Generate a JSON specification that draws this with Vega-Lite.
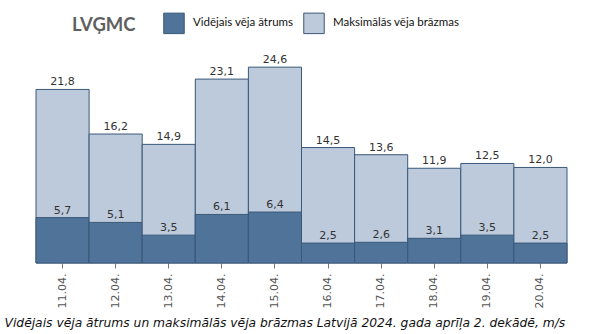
{
  "$schema": "https://vega.github.io/schema/vega-lite/v6.json",
  "autosize": {"type": "none"},
  "width": 531,
  "height": 207,
  "padding": {"left": 36, "top": 56, "right": 33, "bottom": 71},
  "background": "white",
  "title": {
    "text": "LVĢMC",
    "anchor": "start",
    "frame": "group",
    "dx": 36,
    "offset": -22,
    "fontSize": 18.5,
    "fontWeight": "bold",
    "font": "Lato",
    "color": "#5f5f5f"
  },
  "config": {
    "view": {"stroke": null},
    "locale": {"number": {"decimal": ",", "thousands": " ", "grouping": [3], "currency": ["", " €"]}},
    "font": "DejaVu Sans"
  },
  "data": {
    "values": [
      {"date": "11.04.", "avg": 5.7, "max": 21.8},
      {"date": "12.04.", "avg": 5.1, "max": 16.2},
      {"date": "13.04.", "avg": 3.5, "max": 14.9},
      {"date": "14.04.", "avg": 6.1, "max": 23.1},
      {"date": "15.04.", "avg": 6.4, "max": 24.6},
      {"date": "16.04.", "avg": 2.5, "max": 14.5},
      {"date": "17.04.", "avg": 2.6, "max": 13.6},
      {"date": "18.04.", "avg": 3.1, "max": 11.9},
      {"date": "19.04.", "avg": 3.5, "max": 12.5},
      {"date": "20.04.", "avg": 2.5, "max": 12.0}
    ]
  },
  "transform": [
    {"fold": ["max", "avg"], "as": ["key", "value"]},
    {"calculate": "datum.key === 'max' ? 'Maksimālās vēja brāzmas' : 'Vidējais vēja ātrums'", "as": "series"}
  ],
  "encoding": {
    "x": {
      "field": "date",
      "type": "nominal",
      "sort": null,
      "scale": {"paddingInner": 0, "paddingOuter": 0},
      "axis": {
        "labelAngle": -90,
        "labelAlign": "right",
        "labelBaseline": "middle",
        "labelFontSize": 11,
        "labelColor": "#555555",
        "labelPadding": 5,
        "domain": false,
        "ticks": true,
        "tickSize": 5,
        "tickColor": "#777777",
        "title": "Vidējais vēja ātrums un maksimālās vēja brāzmas Latvijā 2024. gada aprīļa 2. dekādē, m/s",
        "titleFontStyle": "italic",
        "titleFontWeight": "normal",
        "titleFontSize": 12.3,
        "titleColor": "#111111",
        "titleAnchor": "start",
        "titleAlign": "left",
        "titleBaseline": "alphabetic",
        "titleX": -32,
        "titleY": 63
      }
    },
    "y": {
      "field": "value",
      "type": "quantitative",
      "stack": null,
      "scale": {"domain": [0, 26], "nice": false},
      "axis": null
    }
  },
  "layer": [
    {
      "mark": {"type": "bar", "stroke": "#3a5878", "strokeWidth": 1},
      "encoding": {
        "color": {
          "field": "series",
          "type": "nominal",
          "scale": {
            "domain": ["Vidējais vēja ātrums", "Maksimālās vēja brāzmas"],
            "range": ["#50739a", "#bccadb"]
          },
          "legend": {
            "title": null,
            "orient": "none",
            "direction": "horizontal",
            "legendX": 127,
            "legendY": -44,
            "symbolType": "square",
            "symbolSize": 420,
            "symbolStrokeColor": "#3a5878",
            "symbolStrokeWidth": 1,
            "symbolOpacity": 1,
            "labelFont": "Lato",
            "labelFontSize": 11.5,
            "labelColor": "#111111",
            "labelOffset": 8,
            "columnPadding": 7
          }
        }
      }
    },
    {
      "mark": {"type": "text", "dy": -7, "fontSize": 11, "color": "#333333"},
      "encoding": {
        "text": {"field": "value", "type": "quantitative", "format": ".1f"}
      }
    }
  ]
}
